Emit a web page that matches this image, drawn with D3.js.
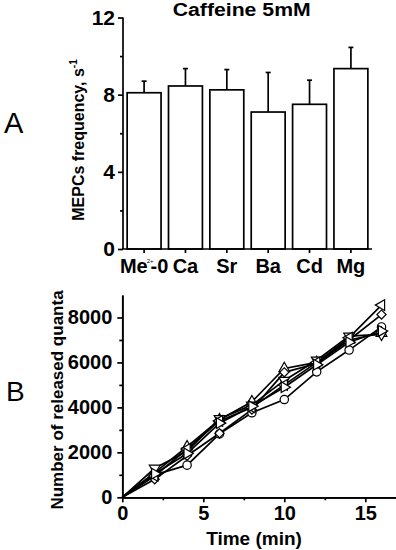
<!DOCTYPE html>
<html>
<head>
<meta charset="utf-8">
<script src="https://d3js.org/d3.v7.min.js"></script>
<style>
body { margin: 0; background: #fff; }
svg { display: block; font-family: Arial, "Liberation Sans", sans-serif; }
</style>
</head>
<body>
<svg id="chart" width="396" height="550"></svg>
<script>
// panel A: MEPC frequency (caffeine 5 mM)
var categories = ["Me0", "Ca", "Sr", "Ba", "Cd", "Mg"];
var freqMean = [8.1, 8.45, 8.25, 7.1, 7.5, 9.35];
var freqErr  = [0.6, 0.9, 1.05, 2.05, 1.25, 1.1];
var freqTicks = [0, 4, 8, 12];
var freqMinor = [2, 6, 10];

// panel B: cumulative released quanta
var times = [0, 2, 4, 6, 8, 10, 12, 14, 16];
var quantaCircle = [0, 1000, 1430, 2820, 3760, 4350, 5580, 6550, 7580];
var quantaUp     = [0, 1100, 2250, 3450, 4250, 5730, 6000, 7000, 7300];
var quantaDown   = [0, 1290, 2050, 3500, 4100, 5200, 6100, 7170, 7250];
var quantaDiam   = [0, 800, 1850, 2850, 3900, 5560, 5950, 7000, 8130];
var quantaLeft   = [0, 950, 2150, 3400, 4000, 5000, 6000, 7100, 8550];
var quantaRight  = [0, 1050, 1950, 3300, 4050, 4900, 5900, 6900, 7400];
var timeTicks = [0, 5, 10, 15];
var timeMinor = [2.5, 7.5, 12.5];
var quantaTicks = [0, 2000, 4000, 6000, 8000];
var quantaMinor = [1000, 3000, 5000, 7000];

var svg = d3.select("#chart");
var FONT = "Arial, 'Liberation Sans', sans-serif";

// ---------- A ----------
var xA = d3.scaleBand().domain(categories).range([123, 372]).paddingInner(0.18).paddingOuter(0.1);
var yA = d3.scaleLinear().domain([0, 12]).range([249, 17.5]);

var gA = svg.append("g");

gA.selectAll("rect.bar").data(categories).enter().append("rect")
  .attr("class", "bar")
  .attr("x", function (d) { return xA(d); })
  .attr("width", xA.bandwidth())
  .attr("y", function (d, i) { return yA(freqMean[i]); })
  .attr("height", function (d, i) { return yA(0) - yA(freqMean[i]); })
  .attr("fill", "#fff").attr("stroke", "#000").attr("stroke-width", 1.7);

var err = gA.selectAll("g.err").data(categories).enter().append("g")
  .attr("stroke", "#000").attr("stroke-width", 1.7);
err.append("line")
  .attr("x1", function (d) { return xA(d) + xA.bandwidth() / 2; })
  .attr("x2", function (d) { return xA(d) + xA.bandwidth() / 2; })
  .attr("y1", function (d, i) { return yA(freqMean[i]); })
  .attr("y2", function (d, i) { return yA(freqMean[i] + freqErr[i]); });
err.append("line")
  .attr("x1", function (d) { return xA(d) + xA.bandwidth() / 2 - 2.5; })
  .attr("x2", function (d) { return xA(d) + xA.bandwidth() / 2 + 2.5; })
  .attr("y1", function (d, i) { return yA(freqMean[i] + freqErr[i]); })
  .attr("y2", function (d, i) { return yA(freqMean[i] + freqErr[i]); });

var yAxisA = gA.append("g").attr("transform", "translate(123,0)")
  .call(d3.axisLeft(yA).tickValues(freqTicks).tickSize(5).tickPadding(3).tickFormat(d3.format("d")));
gA.append("g").attr("transform", "translate(123,0)")
  .call(d3.axisLeft(yA).tickValues(freqMinor).tickSize(3).tickFormat(""));
gA.append("g").attr("transform", "translate(0,249)")
  .call(d3.axisBottom(xA).tickSize(4).tickSizeOuter(0).tickFormat(""));

gA.selectAll(".domain").remove();
gA.selectAll(".tick line").attr("stroke", "#000").attr("stroke-width", 1.7);
yAxisA.selectAll("text").attr("font-size", 21).attr("font-weight", "bold").attr("fill", "#000")
  .attr("font-family", FONT);
gA.append("line").attr("x1", 123).attr("x2", 123).attr("y1", yA(12)).attr("y2", yA(0))
  .attr("stroke", "#000").attr("stroke-width", 1.7);
gA.append("line").attr("x1", 122).attr("x2", 372).attr("y1", yA(0)).attr("y2", yA(0))
  .attr("stroke", "#000").attr("stroke-width", 1.7);

// category labels
var catLab = gA.selectAll("text.cat").data(categories).enter().append("text")
  .attr("class", "cat")
  .attr("x", function (d) { return xA(d) + xA.bandwidth() / 2; })
  .attr("y", 273)
  .attr("text-anchor", "middle")
  .attr("font-size", 20).attr("font-weight", "bold");
catLab.each(function (d) {
  var t = d3.select(this);
  if (d === "Me0") {
    t.append("tspan").text("Me");
    t.append("tspan").attr("font-size", 6).attr("font-weight", "normal").attr("dx", -1).attr("dy", -10).text("2+");
    t.append("tspan").attr("dy", 10).attr("dx", -3).text("-0");
  } else {
    t.text(d);
  }
});

gA.append("text").attr("x", 241.7).attr("y", 16).attr("text-anchor", "middle")
  .attr("font-size", 18).attr("font-weight", "bold")
  .attr("textLength", 138).attr("lengthAdjust", "spacingAndGlyphs")
  .text("Caffeine 5mM");

var ylA = gA.append("text").attr("transform", "translate(84,140) rotate(-90)")
  .attr("text-anchor", "middle").attr("font-size", 16).attr("font-weight", "bold");
ylA.append("tspan").text("MEPCs frequency, s");
ylA.append("tspan").attr("font-size", 10).attr("dy", -7).text("-1");

svg.append("text").attr("x", 4).attr("y", 133).attr("font-size", 29).text("A");

// ---------- B ----------
var xB = d3.scaleLinear().domain([0, 17]).range([122.3, 397.7]);
var yB = d3.scaleLinear().domain([0, 9000]).range([497.3, 295]);
var gB = svg.append("g");

gB.append("g").attr("transform", "translate(0,497.3)")
  .call(d3.axisBottom(xB).tickValues(timeTicks).tickSize(5).tickPadding(4).tickSizeOuter(0).tickFormat(d3.format("d")))
  .call(function (g) { g.selectAll("text").attr("font-size", 20); });
gB.append("g").attr("transform", "translate(0,497.3)")
  .call(d3.axisBottom(xB).tickValues(timeMinor).tickSize(3).tickSizeOuter(0).tickFormat(""));
gB.append("g").attr("transform", "translate(122.3,0)")
  .call(d3.axisLeft(yB).tickValues(quantaTicks).tickSize(5).tickPadding(5).tickSizeOuter(0).tickFormat(d3.format("d")))
  .call(function (g) { g.selectAll("text").attr("font-size", 20); });
gB.append("g").attr("transform", "translate(122.3,0)")
  .call(d3.axisLeft(yB).tickValues(quantaMinor).tickSize(3).tickSizeOuter(0).tickFormat(""));
gB.selectAll(".domain, .tick line").attr("stroke", "#000").attr("stroke-width", 1.7);
gB.selectAll("text").attr("font-weight", "bold").attr("fill", "#000").attr("font-family", FONT);

var series = [
  { values: quantaCircle, type: d3.symbolCircle, size: 55, rot: 0 },
  { values: quantaUp,     type: d3.symbolTriangle, size: 50, rot: 0 },
  { values: quantaDown,   type: d3.symbolTriangle, size: 50, rot: 180 },
  { values: quantaDiam,   type: d3.symbolSquare, size: 42, rot: 45 },
  { values: quantaLeft,   type: d3.symbolTriangle, size: 50, rot: -90 },
  { values: quantaRight,  type: d3.symbolTriangle, size: 50, rot: 90 }
];

var line = d3.line()
  .x(function (d) { return xB(d[0]); })
  .y(function (d) { return yB(d[1]); });

series.forEach(function (s) {
  var pts = times.map(function (t, i) { return [t, s.values[i]]; });
  gB.append("path").attr("d", line(pts))
    .attr("fill", "none").attr("stroke", "#000").attr("stroke-width", 1.7);
});
series.forEach(function (s) {
  var pts = times.map(function (t, i) { return [t, s.values[i]]; }).slice(1);
  gB.selectAll(null).data(pts).enter().append("path")
    .attr("d", d3.symbol().type(s.type).size(s.size))
    .attr("transform", function (d) { return "translate(" + xB(d[0]) + "," + yB(d[1]) + ") rotate(" + s.rot + ")"; })
    .attr("fill", "#fff").attr("stroke", "#000").attr("stroke-width", 1.2);
});

gB.append("text").attr("x", 254).attr("y", 545).attr("text-anchor", "middle")
  .attr("font-size", 19).attr("font-weight", "bold").text("Time (min)");
gB.append("text").attr("transform", "translate(63,400) rotate(-90)")
  .attr("text-anchor", "middle").attr("font-size", 17).attr("font-weight", "bold")
  .text("Number of released quanta");

svg.append("text").attr("x", 6).attr("y", 401).attr("font-size", 28).text("B");
</script>
</body>
</html>
